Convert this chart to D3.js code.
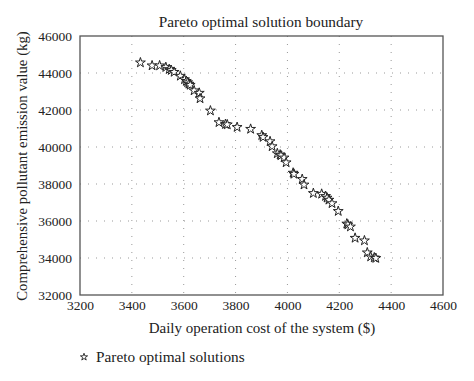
<!DOCTYPE html>
<html>
<head>
<meta charset="utf-8">
<script src="https://cdn.jsdelivr.net/npm/d3@7/dist/d3.min.js"></script>
<style>
  body { margin: 0; background: #fff; }
  text { font-family: "Liberation Serif", "DejaVu Serif", serif; fill: #222; }
</style>
</head>
<body>
<svg id="chart" width="474" height="381"></svg>
<script>
// daily operation cost ($)
var cost = [3433, 3478, 3507, 3531, 3544, 3552, 3563, 3587, 3603, 3610, 3615, 3620, 3625,
            3640, 3660, 3663, 3703, 3736, 3761, 3768, 3806, 3858, 3901, 3906, 3933, 3941,
            3961, 3972, 3975, 3987, 3995, 4022, 4025, 4057, 4064, 4100, 4132, 4147, 4153,
            4160, 4172, 4196, 4229, 4233, 4243, 4261, 4297, 4308, 4321, 4335, 4341];
// comprehensive pollutant emission (kg)
var emission = [44560, 44400, 44400, 44310, 44200, 44150, 44050, 43840, 43650, 43560, 43490, 43410, 43350,
                43050, 42920, 42620, 41960, 41330, 41230, 41210, 41070, 40970, 40630, 40530, 40300, 40030,
                39650, 39580, 39540, 39420, 39160, 38600, 38540, 38260, 37960, 37500, 37460, 37340, 37250,
                37140, 36950, 36530, 35850, 35800, 35690, 35080, 34940, 34290, 34070, 34020, 33990];
var xTicks = [3200, 3400, 3600, 3800, 4000, 4200, 4400, 4600];
var yTicks = [32000, 34000, 36000, 38000, 40000, 42000, 44000, 46000];

var svg = d3.select("#chart");
var plotL = 80, plotR = 443, plotT = 36, plotB = 295;

var x = d3.scaleLinear().domain([3200, 4600]).range([plotL, plotR]);
var y = d3.scaleLinear().domain([32000, 46000]).range([plotB, plotT]);

// dotted grid
svg.append("g").selectAll("line")
    .data(xTicks.slice(1, -1))
    .enter().append("line")
    .attr("x1", function(d) { return x(d); })
    .attr("x2", function(d) { return x(d); })
    .attr("y1", plotT).attr("y2", plotB)
    .attr("stroke", "#999").attr("stroke-width", 1)
    .attr("stroke-dasharray", "1,7");

svg.append("g").selectAll("line")
    .data(yTicks.slice(1, -1))
    .enter().append("line")
    .attr("y1", function(d) { return y(d); })
    .attr("y2", function(d) { return y(d); })
    .attr("x1", plotL).attr("x2", plotR)
    .attr("stroke", "#999").attr("stroke-width", 1)
    .attr("stroke-dasharray", "1,7");

// axes (labels only)
var xAxis = svg.append("g")
    .attr("transform", "translate(0," + plotB + ")")
    .call(d3.axisBottom(x).tickValues(xTicks).tickSize(0).tickPadding(5).tickFormat(d3.format("d")));
xAxis.select(".domain").remove();
xAxis.selectAll("text").style("font-size", "13.5px").style("font-family", "Liberation Serif, serif").attr("fill", "#222");

var yAxis = svg.append("g")
    .attr("transform", "translate(" + plotL + ",0)")
    .call(d3.axisLeft(y).tickValues(yTicks).tickSize(0).tickPadding(8).tickFormat(d3.format("d")));
yAxis.select(".domain").remove();
yAxis.selectAll("text").style("font-size", "13.5px").style("font-family", "Liberation Serif, serif").attr("fill", "#222");

// frame
svg.append("rect")
    .attr("x", plotL).attr("y", plotT)
    .attr("width", plotR - plotL).attr("height", plotB - plotT)
    .attr("fill", "none").attr("stroke", "#555").attr("stroke-width", 1.3);

// points
var star = d3.symbol().type(d3.symbolStar).size(30);
svg.append("g").selectAll("path")
    .data(cost)
    .enter().append("path")
    .attr("d", star)
    .attr("transform", function(d, i) { return "translate(" + x(d) + "," + y(emission[i]) + ")"; })
    .attr("fill", "#fff").attr("stroke", "#222").attr("stroke-width", 1);

// titles
svg.append("text")
    .attr("x", 261).attr("y", 27)
    .attr("text-anchor", "middle")
    .style("font-size", "15.3px")
    .text("Pareto optimal solution boundary");

svg.append("text")
    .attr("x", 262).attr("y", 333)
    .attr("text-anchor", "middle")
    .style("font-size", "15px")
    .text("Daily operation cost of the system ($)");

svg.append("text")
    .attr("transform", "translate(27,166) rotate(-90)")
    .attr("text-anchor", "middle")
    .style("font-size", "14.8px")
    .text("Comprehensive pollutant emission value (kg)");

// legend
svg.append("path")
    .attr("d", d3.symbol().type(d3.symbolStar).size(16))
    .attr("transform", "translate(84,357)")
    .attr("fill", "#fff").attr("stroke", "#222").attr("stroke-width", 0.9);
svg.append("text")
    .attr("x", 96).attr("y", 362)
    .style("font-size", "15.3px")
    .text("Pareto optimal solutions");
</script>
</body>
</html>
